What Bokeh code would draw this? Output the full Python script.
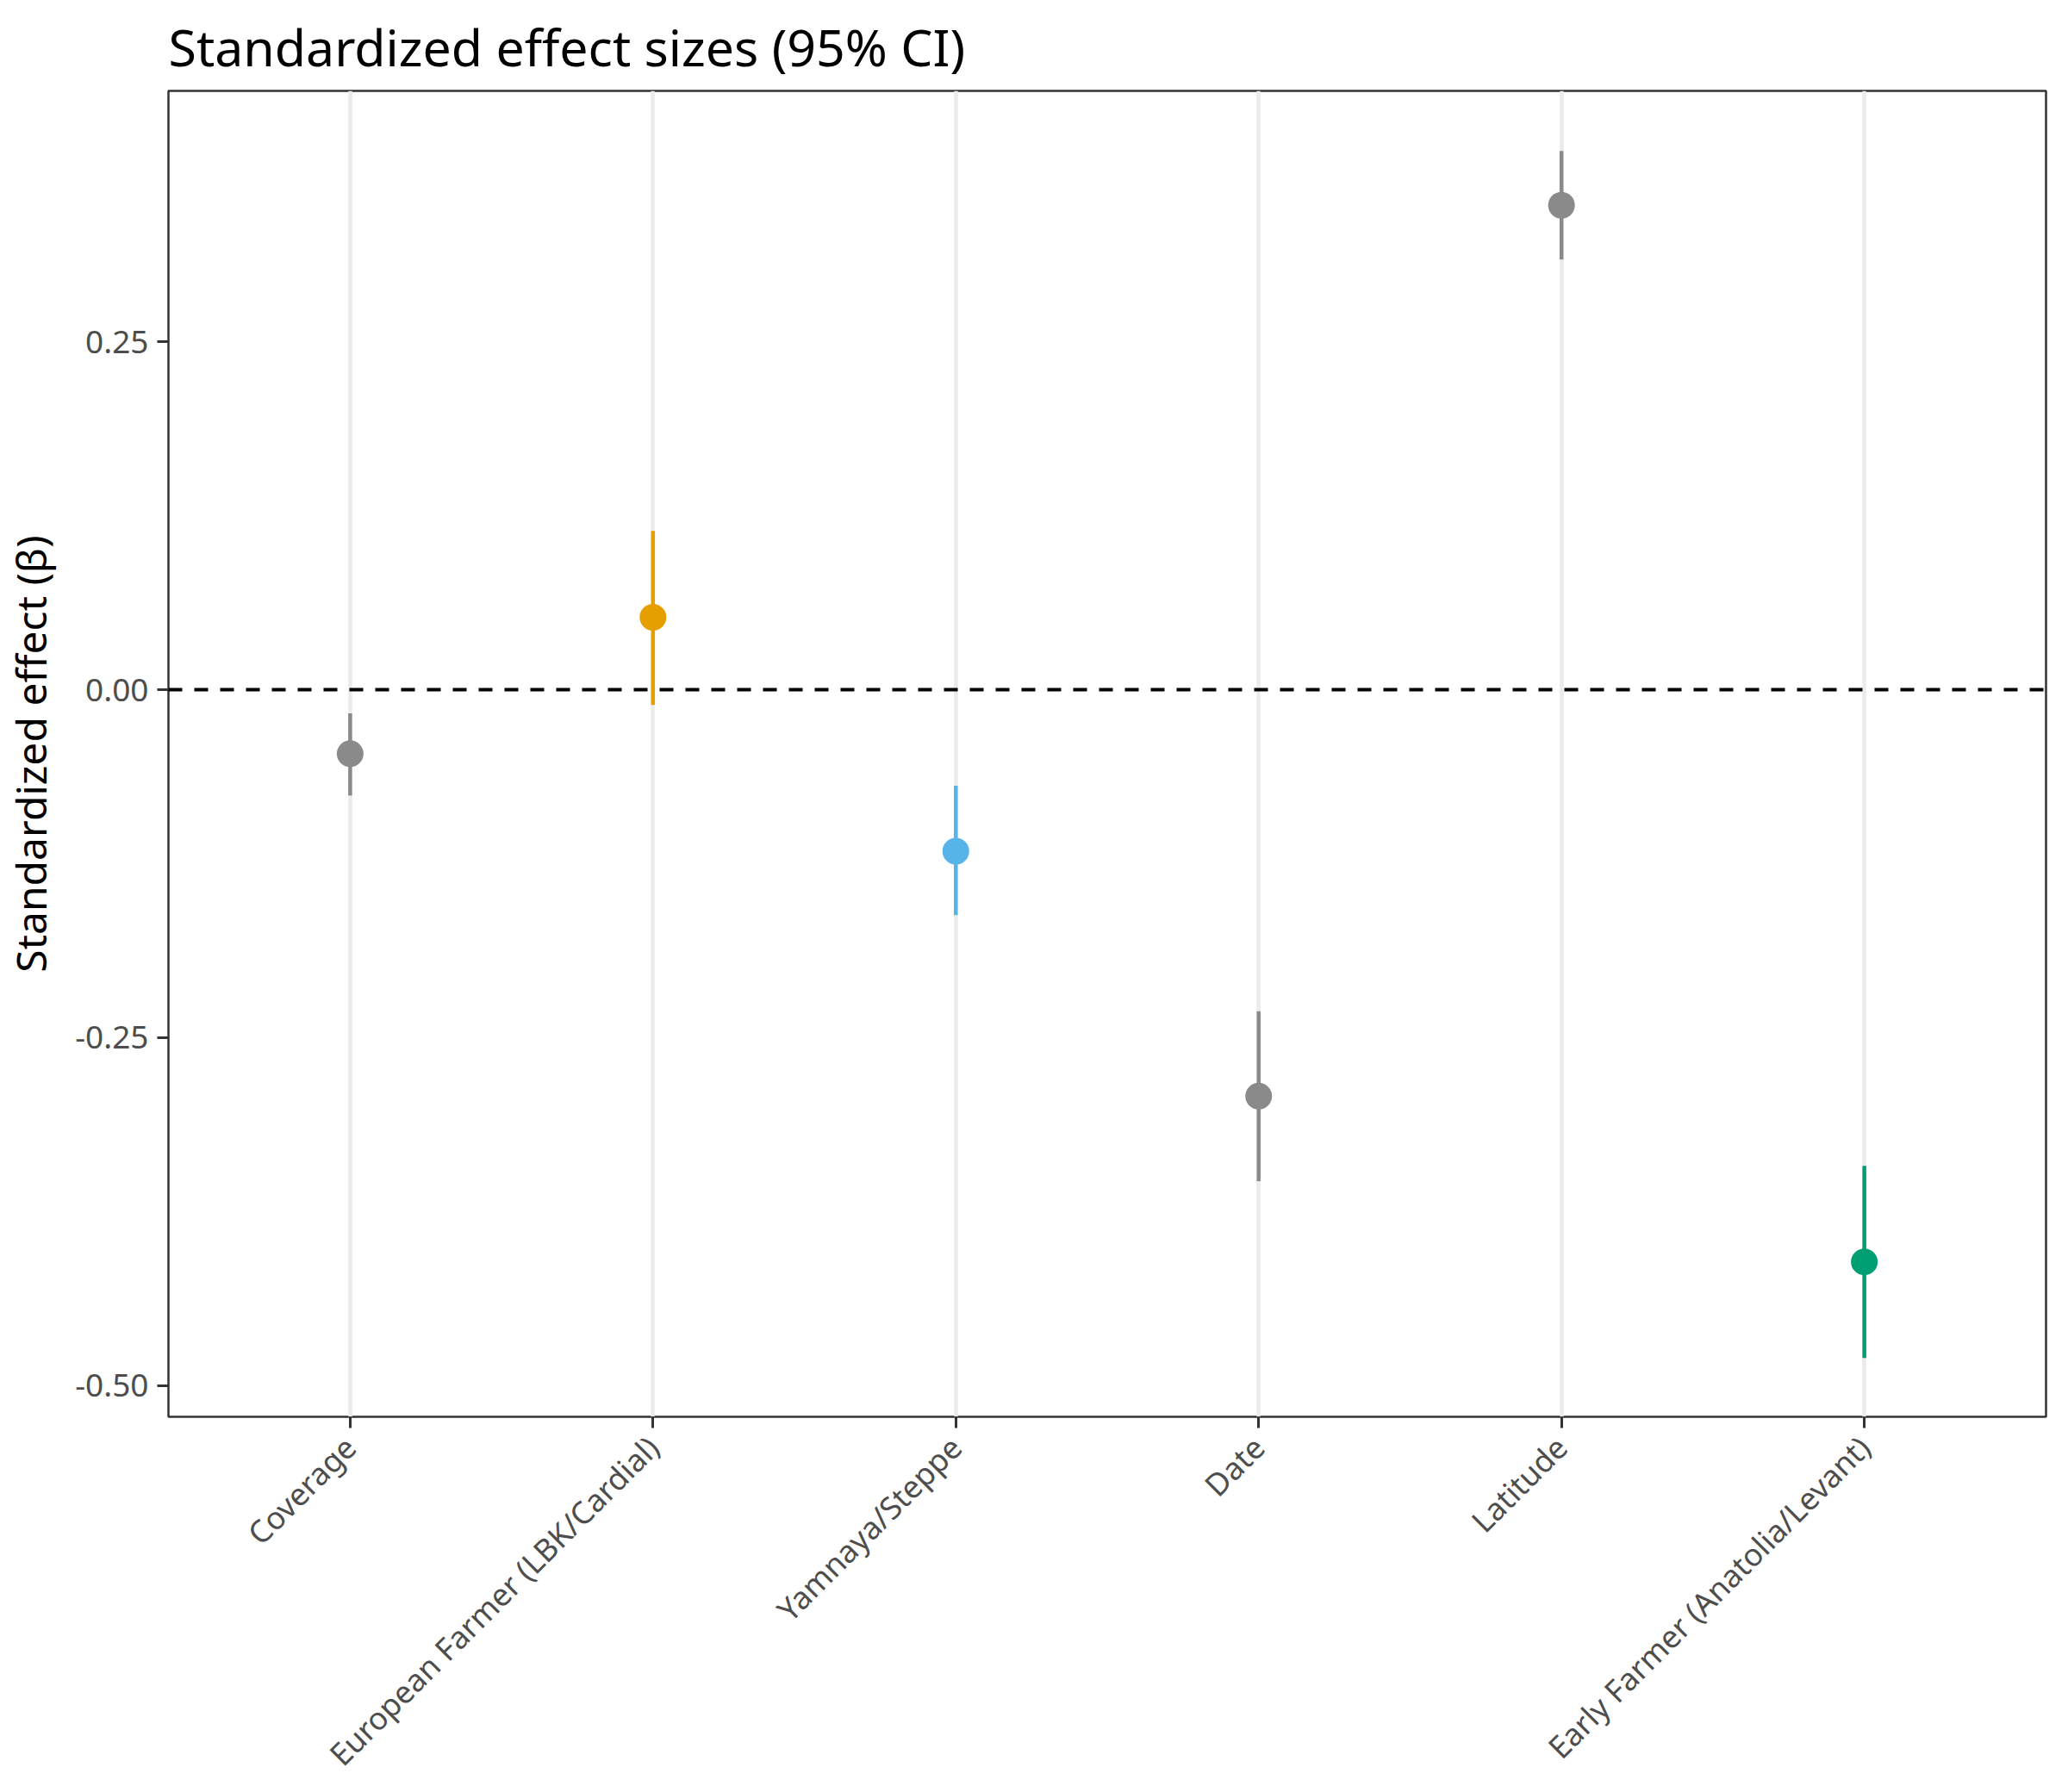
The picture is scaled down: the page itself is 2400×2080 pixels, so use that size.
import math
from bokeh.plotting import figure
from bokeh.models import FactorRange, Range1d, Span, FixedTicker, NumeralTickFormatter, ColumnDataSource
from bokeh.embed import file_html
from bokeh.resources import INLINE

# ---- data ----
categories = ["Coverage", "European Farmer (LBK/Cardial)", "Yamnaya/Steppe",
              "Date", "Latitude", "Early Farmer (Anatolia/Levant)"]
estimate = [-0.046, 0.052, -0.116, -0.292, 0.348, -0.411]
ci_low = [-0.076, -0.011, -0.162, -0.353, 0.309, -0.480]
ci_high = [-0.017, 0.114, -0.069, -0.231, 0.387, -0.342]
colors = ["#8a8a8a", "#E69F00", "#56B4E9", "#8a8a8a", "#8a8a8a", "#009E73"]
y_ticks = [-0.50, -0.25, 0.0, 0.25]

FONT = "Noto Sans"

src = ColumnDataSource(dict(cat=categories, est=estimate, lo=ci_low, hi=ci_high, col=colors))

p = figure(
    width=2400, height=2080,
    x_range=FactorRange(factors=categories, range_padding=0.1, range_padding_units="absolute"),
    y_range=Range1d(-0.5223, 0.4301),
    output_backend="svg", toolbar_location=None,
    min_border_left=195, min_border_right=26, min_border_top=105, min_border_bottom=436,
)

p.background_fill_color = "white"
p.border_fill_color = "white"
p.outline_line_color = "#333333"
p.outline_line_width = 2.5

# title
p.title.text = "Standardized effect sizes (95% CI)"
p.title.text_font = FONT
p.title.text_font_size = "59px"
p.title.text_font_style = "normal"
p.title.text_color = "black"
p.title.align = "left"
p.title.standoff = 23

# grids
p.xgrid.grid_line_color = "#ebebeb"
p.xgrid.grid_line_width = 4.5
p.ygrid.grid_line_color = None

# axes
for ax in (p.xaxis[0], p.yaxis[0]):
    ax.axis_line_color = None
    ax.major_tick_line_color = "#333333"
    ax.major_tick_line_width = 3
    ax.major_tick_out = 13
    ax.major_tick_in = 0
    ax.minor_tick_line_color = None
    ax.major_label_text_font = FONT
    ax.major_label_text_font_size = "36px"
    ax.major_label_text_color = "#4d4d4d"

p.yaxis.ticker = FixedTicker(ticks=y_ticks)
p.yaxis.formatter = NumeralTickFormatter(format="0.00")
p.yaxis.major_label_text_font_size = "37px"
p.yaxis.major_label_standoff = 10
p.yaxis.axis_label = "Standardized effect (β)"
p.yaxis.axis_label_text_font = FONT
p.yaxis.axis_label_text_font_size = "48px"
p.yaxis.axis_label_text_font_style = "normal"
p.yaxis.axis_label_text_color = "black"
p.yaxis.axis_label_standoff = 16

p.xaxis.major_label_orientation = math.pi / 4
p.xaxis.major_label_standoff = 16

# zero reference line
p.add_layout(Span(location=0, dimension="width", line_color="black",
                  line_width=4, line_dash="16 14"))

# error bars and points
p.segment(x0="cat", y0="lo", x1="cat", y1="hi", source=src, line_color="col", line_width=4.5)
p.scatter(x="cat", y="est", source=src, size=31, fill_color="col", line_color="col", line_width=0)

open("out.html", "w").write(file_html(p, INLINE))
